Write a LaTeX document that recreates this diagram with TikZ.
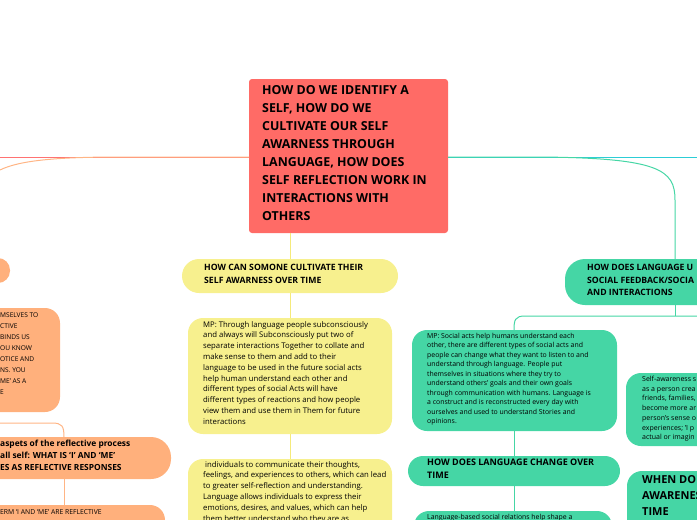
\documentclass[tikz,border=0pt]{standalone}
\usepackage{fontspec}
\setmainfont{Open Sans}
\definecolor{cred}{HTML}{FF6B66}
\definecolor{cyel}{HTML}{F7F08E}
\definecolor{cgrn}{HTML}{45D6A5}
\definecolor{corg}{HTML}{FFB07C}
\definecolor{lcyan}{HTML}{2CCDD6}
\definecolor{lyel}{HTML}{F5EA7A}
\definecolor{lorg}{HTML}{FFB585}
\definecolor{lred}{HTML}{FF7272}
\definecolor{lgrn}{HTML}{45D6A5}
\begin{document}
\begin{tikzpicture}[x=1pt,y=-1pt,
  box/.style={inner sep=0,outer sep=0,anchor=north west},
  txt/.style={inner sep=0,anchor=north west,align=left,text=black},
  big/.style={txt,font=\fontsize{12.4}{18}\selectfont\bfseries},
  head/.style={txt,font=\fontsize{8.7}{12.6}\selectfont\bfseries},
  body/.style={txt,font=\fontsize{7.75}{10.8}\selectfont},
  gbody/.style={txt,font=\fontsize{6.9}{9.5}\selectfont},
  conn/.style={line width=1pt}]
\useasboundingbox (0,0) rectangle (697,520);
\clip (0,0) rectangle (697,520);
% boxes
\node[box,fill=cred,rounded corners=3pt,minimum width=199,minimum height=154] (root) at (249,79) {};
\node[box,fill=cyel,rounded corners=17pt,minimum width=216,minimum height=34] (yh) at (182,259) {};
\node[box,fill=cyel,rounded corners=15pt,minimum width=204,minimum height=116] (yb1) at (188,318) {};
\node[box,fill=cyel,rounded corners=15pt,minimum width=204,minimum height=90] (yb2) at (188,459) {};
\node[box,fill=cgrn,rounded corners=20pt,minimum width=160,minimum height=46] (gh) at (565,259) {};
\node[box,fill=cgrn,rounded corners=15pt,minimum width=205,minimum height=101] (gb1) at (412,330) {};
\node[box,fill=cgrn,rounded corners=15pt,minimum width=212,minimum height=30] (gh2) at (408,456) {};
\node[box,fill=cgrn,rounded corners=15pt,minimum width=198,minimum height=40] (gb2) at (414,511) {};
\node[box,fill=cgrn,rounded corners=15pt,minimum width=100,minimum height=73] (gr1) at (626,373) {};
\node[box,fill=cgrn,rounded corners=15pt,minimum width=100,minimum height=70] (gr2) at (627,471) {};
\node[box,fill=corg,rounded corners=12pt,minimum width=30,minimum height=25] (oh) at (-20,258) {};
\node[box,fill=corg,rounded corners=15pt,minimum width=100,minimum height=104] (ob1) at (-40,308) {};
\node[box,fill=corg,rounded corners=20pt,minimum width=211,minimum height=42] (oh2) at (-40,437) {};
\node[box,fill=corg,rounded corners=15pt,minimum width=205,minimum height=40] (ob2) at (-40,505) {};
% connectors
\coordinate (lred) at (0,157);
\coordinate (lorgc) at (0,170);
\coordinate (rcy) at (697,157);
\draw[conn,lred] (root.west|-lred) -- (lred);
\draw[conn,lorg] (root.west|-lred) -- (120,157) .. controls (60,157) and (20,160) .. (lorgc);
\draw[conn,lcyan] (root.east|-rcy) -- (rcy);
\draw[conn,lgrn] (root.east|-rcy) -- (540,157) .. controls (660,158) and (675,170) .. (675,200) -- (gh.north-|675,0);
\coordinate (gj) at (675,316);
\coordinate (gje) at (697,316);
\draw[conn,lgrn] (gh.south-|gj) -- (gj);
\draw[conn,lgrn] (gje) -- (525,316) .. controls (515,316) and (514,320) .. (514,330);
\draw[conn,lgrn] (gb1.south-|514,0) -- (gh2.north-|514,0);
\draw[conn,lgrn] (gh2.south-|514,0) -- (gb2.north-|514,0);
\draw[conn,lyel] (root.south-|290,0) -- (yh.north-|290,0);
\draw[conn,lyel] (yh.south-|290,0) -- (yb1.north-|290,0);
\draw[conn,lyel] (yb1.south-|290,0) -- (yb2.north-|290,0);
\coordinate (ol) at (0,423);
\draw[conn,lorg] (ol) -- (52,423) .. controls (62,423) and (64,426) .. (64,437);
\draw[conn,lorg] (oh2.south-|64,0) -- (ob2.north-|64,0);
% texts
\node[big] (troot) at (262,85) {HOW DO WE IDENTIFY A\\SELF, HOW DO WE\\CULTIVATE OUR SELF\\AWARNESS THROUGH\\LANGUAGE, HOW DOES\\SELF REFLECTION WORK IN\\INTERACTIONS WITH\\OTHERS};
\node[head] (tyh) at (204,264) {HOW CAN SOMONE CULTIVATE THEIR\\SELF AWARNESS OVER TIME};
\node[body] (tyb1) at (203,321) {MP: Through language people subconsciously\\and always will Subconsciously put two of\\separate interactions Together to collate and\\make sense to them and add to their\\language to be used in the future social acts\\help human understand each other and\\different types of social Acts will have\\different types of reactions and how people\\view them and use them in Them for future\\interactions};
\node[body] (tyb2) at (203,461) {\ individuals to communicate their thoughts,\\feelings, and experiences to others, which can lead\\to greater self-reflection and understanding.\\Language allows individuals to express their\\emotions, desires, and values, which can help\\them better understand who they are as};
\node[head] (tgh) at (587,264) {HOW DOES LANGUAGE U\\SOCIAL FEEDBACK/SOCIA\\AND INTERACTIONS};
\node[gbody] (tgb1) at (427,333) {MP: Social acts help humans understand each\\other, there are different types of social acts and\\people can change what they want to listen to and\\understand through language. People put\\themselves in situations where they try to\\understand others' goals and their own goals\\through communication with humans. Language is\\a construct and is reconstructed every day with\\ourselves and used to understand Stories and\\opinions.};
\node[head,font=\fontsize{9}{13}\selectfont\bfseries] (tgh2) at (427,459) {HOW DOES LANGUAGE CHANGE OVER\\TIME};
\node[gbody] (tgb2) at (427,514) {Language-based social relations help shape a};
\node[gbody,font=\fontsize{7}{9.7}\selectfont] (tgr1) at (642,376) {Self-awareness s\\as a person crea\\friends, families,\\become more ar\\person's sense o\\experiences; 'I p\\actual or imagin};
\node[txt,font=\fontsize{11}{16}\selectfont\bfseries] (tgr2) at (642,475) {WHEN DO W\\AWARENESS\\TIME};
\node[txt,font=\fontsize{6.6}{11}\selectfont] (tob1) at (0,313) {MSELVES TO\\CTIVE\\BINDS US\\OU KNOW\\OTICE AND\\NS. YOU\\ME' AS A\\E};
\node[head,font=\fontsize{8.4}{12}\selectfont\bfseries] (toh2) at (0,440) {aspets of the reflective process\\all self: WHAT IS ‘I’ AND ‘ME’\\ES AS REFLECTIVE RESPONSES};
\node[txt,font=\fontsize{6.8}{10}\selectfont] (tob2) at (0,509) {ERM ‘I AND ‘ME’ ARE REFLECTIVE};
\end{tikzpicture}
\end{document}
